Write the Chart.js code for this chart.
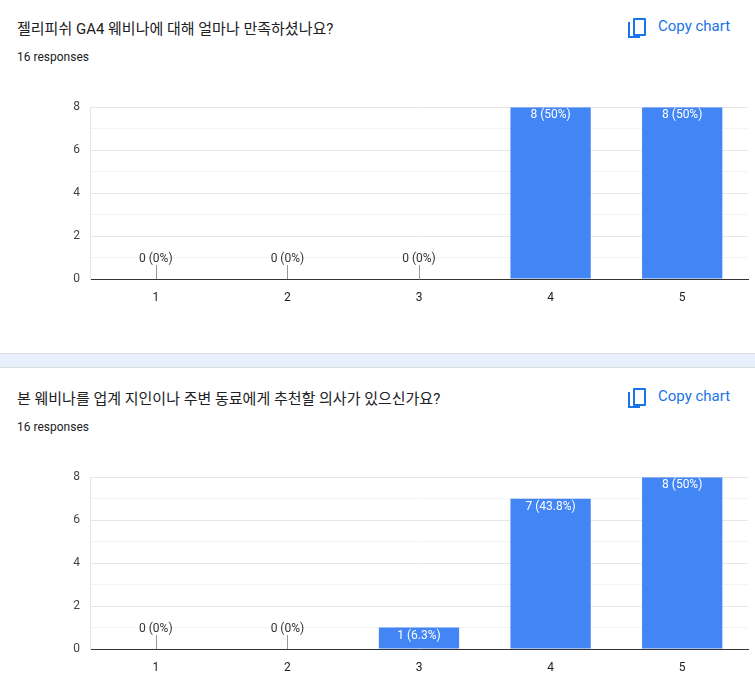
<!DOCTYPE html>
<html><head><meta charset="utf-8">
<script src="https://cdn.jsdelivr.net/npm/chart.js@4"></script>
<style>
body{margin:0;width:755px;height:677px;background:#fff;font-family:Roboto,"Noto Sans CJK KR",sans-serif;position:relative;overflow:hidden}
.title{position:absolute;left:17px;font-size:15px;color:#202124}
.resp{position:absolute;left:17px;font-size:12px;color:#202124}
.copy{position:absolute;left:628px;font-size:15px;color:#1a73e8}
.icon{position:absolute;left:0;top:1px;width:18px;height:20px}
.icon .a{position:absolute;left:0;top:4px;width:10px;height:14px;border-left:2px solid #1a73e8;border-bottom:2px solid #1a73e8}
.icon .b{position:absolute;left:5px;top:0;width:9px;height:14px;border:2px solid #1a73e8;border-radius:1px}
.sep{position:absolute;left:0;top:353px;width:755px;height:13px;background:#e8f0fe;border-top:1px solid #dadce0;border-bottom:1px solid #dadce0}
.wrap{position:absolute;left:0;width:755px;height:230px}
</style></head><body>
<div class="title" style="top:17px">젤리피쉬 GA4 웨비나에 대해 얼마나 만족하셨나요?</div>
<div class="resp" style="top:50px">16 responses</div>
<div class="copy" style="top:17px"><div class="icon"><div class="a"></div><div class="b"></div></div><span style="margin-left:30px">Copy chart</span></div>
<div class="wrap" style="top:90px"><canvas id="c1"></canvas></div>
<div class="sep"></div>
<div class="title" style="top:387px">본 웨비나를 업계 지인이나 주변 동료에게 추천할 의사가 있으신가요?</div>
<div class="resp" style="top:420px">16 responses</div>
<div class="copy" style="top:387px"><div class="icon"><div class="a"></div><div class="b"></div></div><span style="margin-left:30px">Copy chart</span></div>
<div class="wrap" style="top:460px"><canvas id="c2"></canvas></div>
<script>
const categories = ['1', '2', '3', '4', '5'];
const satisfaction = [0, 0, 0, 8, 8];
const satisfactionPct = ['0%', '0%', '0%', '50%', '50%'];
const recommend = [0, 0, 1, 7, 8];
const recommendPct = ['0%', '0%', '6.3%', '43.8%', '50%'];
const yTicks = [0, 2, 4, 6, 8];

const labelPlugin = {
  id: 'barLabels',
  afterDatasetsDraw(chart) {
    const ctx = chart.ctx;
    const ds = chart.data.datasets[0];
    const meta = chart.getDatasetMeta(0);
    const pct = chart.options.plugins.barLabels.pct;
    ctx.save();
    ctx.font = '12px Roboto';
    ctx.textAlign = 'center';
    meta.data.forEach((bar, i) => {
      const v = ds.data[i];
      const txt = v + ' (' + pct[i] + ')';
      if (v > 0) {
        ctx.fillStyle = '#fff';
        ctx.textBaseline = 'top';
        ctx.fillText(txt, bar.x, bar.y + 2);
      } else {
        ctx.strokeStyle = '#999';
        ctx.lineWidth = 1;
        ctx.beginPath();
        ctx.moveTo(Math.round(bar.x) + 0.5, bar.y - 14);
        ctx.lineTo(Math.round(bar.x) + 0.5, bar.y);
        ctx.stroke();
        ctx.fillStyle = '#333';
        ctx.textBaseline = 'bottom';
        ctx.fillText(txt, bar.x, bar.y - 14);
      }
    });
    ctx.restore();
  }
};

function makeChart(id, data, pct) {
  return new Chart(document.getElementById(id), {
    type: 'bar',
    data: {
      labels: categories,
      datasets: [{ data: data, backgroundColor: '#4285f4', barPercentage: 0.61, categoryPercentage: 1 }]
    },
    options: {
      responsive: true,
      maintainAspectRatio: false,
      animation: false,
      layout: { padding: { top: 9, right: 7 } },
      plugins: { legend: { display: false }, tooltip: { enabled: false }, barLabels: { pct: pct } },
      scales: {
        x: {
          grid: { display: false },
          border: { color: '#333', width: 1 },
          ticks: { color: '#222', font: { family: 'Roboto', size: 12 }, padding: 4 },
          afterFit(s) { s.height = 41; }
        },
        y: {
          min: 0, max: 8,
          afterFit(s) { s.width = 90; },
          afterBuildTicks(s) { s.ticks = [0,1,2,3,4,5,6,7,8].map(v => ({ value: v })); },
          grid: { color: ctx => (ctx.tick && ctx.tick.value % 2 === 0) ? '#e6e6e6' : '#f3f3f3', drawTicks: false },
          border: { color: '#e6e6e6' },
          ticks: {
            color: '#444', font: { family: 'Roboto', size: 12 }, padding: 10,
            callback: v => yTicks.includes(v) ? v : ''
          }
        }
      }
    },
    plugins: [labelPlugin]
  });
}
makeChart('c1', satisfaction, satisfactionPct);
makeChart('c2', recommend, recommendPct);
</script>
</body></html>
